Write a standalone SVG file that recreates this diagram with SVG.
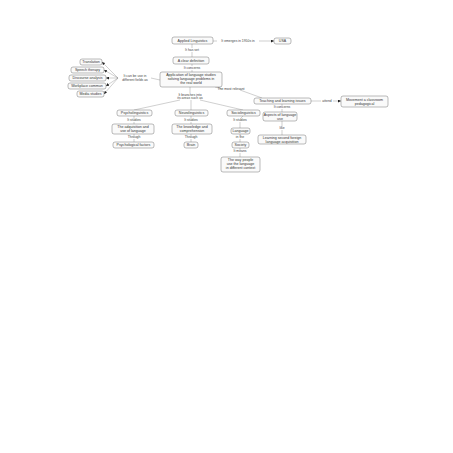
<svg xmlns="http://www.w3.org/2000/svg" width="453" height="453" viewBox="0 0 453 453">
<defs>
<style>
.n rect{fill:#fafafa;stroke:#666;stroke-width:0.45}
text{font-family:"Liberation Sans",Arial,sans-serif;font-size:3.6px;fill:#333;text-anchor:middle}
.l{font-size:3.4px;fill:#444}
#edges line{stroke:#777;stroke-width:0.35;fill:none}
.a{marker-end:url(#ar)}
</style>
<marker id="ar" viewBox="0 0 6 6" refX="6" refY="3" markerWidth="3" markerHeight="3" orient="auto" markerUnits="userSpaceOnUse"><path d="M0,0L6,3L0,6z" fill="#222"/></marker>
</defs>
<rect width="453" height="453" fill="#fff"/>
<g id="edges">
<line x1="213" y1="41" x2="217" y2="41"/>
<line class="a" x1="259" y1="41" x2="274" y2="41"/>
<line x1="192" y1="44" x2="192" y2="48"/>
<line x1="192" y1="52" x2="192" y2="57"/>
<line x1="192" y1="64" x2="192" y2="66"/>
<line x1="192" y1="70" x2="192" y2="72"/>
<line x1="160" y1="80" x2="151" y2="78"/>
<line class="a" x1="118" y1="78" x2="102" y2="62"/>
<line class="a" x1="118" y1="78" x2="104" y2="70"/>
<line class="a" x1="118" y1="78" x2="106" y2="78"/>
<line class="a" x1="118" y1="78" x2="106" y2="86"/>
<line class="a" x1="118" y1="78" x2="104" y2="94"/>
<line x1="215" y1="87" x2="222" y2="89"/>
<line x1="240" y1="90" x2="262" y2="98"/>
<line x1="311" y1="101" x2="321" y2="101"/>
<line class="a" x1="333" y1="101" x2="341" y2="101"/>
<line x1="282" y1="104" x2="282" y2="106"/>
<line x1="282" y1="109" x2="282" y2="112"/>
<line x1="282" y1="121" x2="282" y2="127"/>
<line x1="282" y1="130" x2="282" y2="135"/>
<line x1="190" y1="87" x2="190" y2="93"/>
<line x1="180" y1="100" x2="134" y2="110"/>
<line x1="191" y1="100" x2="191" y2="110"/>
<line x1="200" y1="100" x2="243" y2="110"/>
<line x1="134" y1="116" x2="134" y2="119"/>
<line x1="134" y1="122" x2="134" y2="124"/>
<line x1="134" y1="134" x2="134" y2="136"/>
<line x1="134" y1="139" x2="134" y2="142"/>
<line x1="191" y1="116" x2="191" y2="119"/>
<line x1="191" y1="122" x2="191" y2="124"/>
<line x1="191" y1="134" x2="191" y2="136"/>
<line x1="191" y1="139" x2="191" y2="142"/>
<line x1="243" y1="116" x2="240" y2="119"/>
<line x1="240" y1="122" x2="240" y2="128"/>
<line x1="240" y1="134" x2="240" y2="136"/>
<line x1="240" y1="139" x2="240" y2="142"/>
<line x1="240" y1="148" x2="240" y2="150"/>
<line x1="240" y1="153" x2="240" y2="157"/>
</g>
<g id="labels">
<text class="l" x="238" y="42.2">It emerges in 1950s in</text>
<text class="l" x="192" y="51.2">It has set</text>
<text class="l" x="192" y="69.2">It concerns</text>
<text class="l" x="135" y="77">It can be use in</text>
<text class="l" x="135" y="80.6">different fields as</text>
<text class="l" x="231" y="90.2">The most relevant</text>
<text class="l" x="327" y="102.2">attend</text>
<text class="l" x="282" y="108.2">It concerns</text>
<text class="l" x="282" y="129.2">like</text>
<text class="l" x="190" y="95.6">It branches into</text>
<text class="l" x="190" y="99.2">its areas such as</text>
<text class="l" x="134" y="121.4">It studies</text>
<text class="l" x="134" y="138.4">Through</text>
<text class="l" x="191" y="121.4">It studies</text>
<text class="l" x="191" y="138.4">Through</text>
<text class="l" x="240" y="121.4">It studies</text>
<text class="l" x="240" y="138.4">in the</text>
<text class="l" x="240" y="152.4">It means</text>
</g>
<g id="n1" class="n"><rect x="172" y="37" width="41" height="7" rx="2"/><text x="192.5" y="41.8">Applied Linguistics</text></g>
<g id="n2" class="n"><rect x="274" y="38" width="17" height="6" rx="2"/><text x="282.5" y="42.2">USA</text></g>
<g id="n3" class="n"><rect x="173" y="57" width="36" height="7" rx="2"/><text x="191" y="61.8">A clear definition</text></g>
<g id="n4" class="n"><rect x="160" y="72" width="62" height="15" rx="2"/><text x="191" y="76.4">Application of language studies</text><text x="191" y="80.4">solving language problems in</text><text x="191" y="84.4">the real world</text></g>
<g id="n5" class="n"><rect x="80" y="59" width="22" height="6" rx="2"/><text x="91" y="63.2">Translation</text></g>
<g id="n6" class="n"><rect x="71" y="67" width="33" height="6" rx="2"/><text x="87.5" y="71.2">Speech therapy</text></g>
<g id="n7" class="n"><rect x="69" y="75" width="37" height="6" rx="2"/><text x="87.5" y="79.2">Discourse analysis</text></g>
<g id="n8" class="n"><rect x="68" y="83" width="38" height="6" rx="2"/><text x="87" y="87.2">Workplace commun</text></g>
<g id="n9" class="n"><rect x="77" y="91" width="27" height="6" rx="2"/><text x="90.5" y="95.2">Media studies</text></g>
<g id="n10" class="n"><rect x="254" y="98" width="57" height="6" rx="2"/><text x="282.5" y="102.2">Teaching and learning issues</text></g>
<g id="n11" class="n"><rect x="341" y="96" width="47" height="11" rx="2"/><text x="364.5" y="100.6">Movement a classroom</text><text x="364.5" y="104.6">pedagogical</text></g>
<g id="n12" class="n"><rect x="263" y="112" width="34" height="9" rx="2"/><text x="280" y="115.8">Aspects of language</text><text x="280" y="119.6">use</text></g>
<g id="n13" class="n"><rect x="258" y="135" width="48" height="9" rx="2"/><text x="282" y="138.8">Learning second foreign</text><text x="282" y="142.6">language acquisition</text></g>
<g id="n14" class="n"><rect x="117" y="110" width="35" height="6" rx="2"/><text x="134.5" y="114.2">Psycholinguistics</text></g>
<g id="n15" class="n"><rect x="175" y="110" width="33" height="6" rx="2"/><text x="191.5" y="114.2">Neurolinguistics</text></g>
<g id="n16" class="n"><rect x="227" y="110" width="33" height="6" rx="2"/><text x="243.5" y="114.2">Sociolinguistics</text></g>
<g id="n17" class="n"><rect x="112" y="124" width="42" height="10" rx="2"/><text x="133" y="128.2">The adquisition and</text><text x="133" y="132.2">use of language</text></g>
<g id="n18" class="n"><rect x="113" y="142" width="41" height="6" rx="2"/><text x="133.5" y="146.2">Psychological factors</text></g>
<g id="n19" class="n"><rect x="172" y="124" width="40" height="10" rx="2"/><text x="192" y="128.2">The knowledge and</text><text x="192" y="132.2">comprehension</text></g>
<g id="n20" class="n"><rect x="184" y="142" width="14" height="6" rx="2"/><text x="191" y="146.2">Brain</text></g>
<g id="n21" class="n"><rect x="231" y="128" width="19" height="6" rx="2"/><text x="240.5" y="132.2">Language</text></g>
<g id="n22" class="n"><rect x="232" y="142" width="17" height="6" rx="2"/><text x="240.5" y="146.2">Society</text></g>
<g id="n23" class="n"><rect x="221" y="157" width="39" height="15" rx="2"/><text x="240.5" y="161.4">The way people</text><text x="240.5" y="165.4">use the language</text><text x="240.5" y="169.4">in different context</text></g>
</svg>
